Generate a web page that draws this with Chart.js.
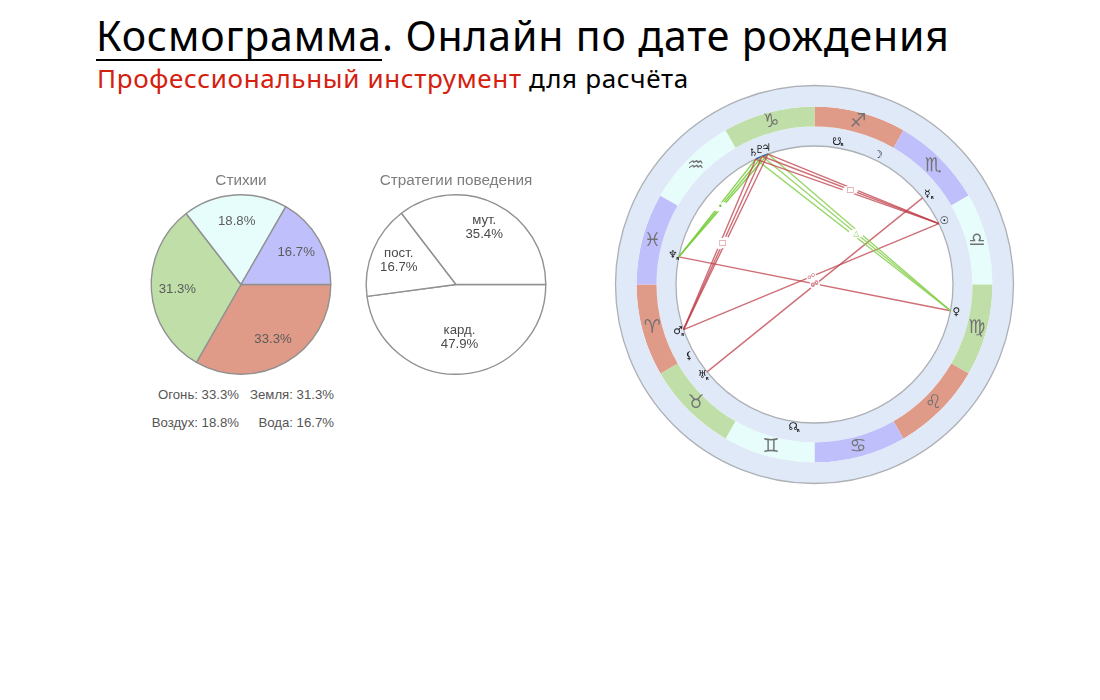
<!DOCTYPE html>
<html lang="ru"><head><meta charset="utf-8">
<script src="https://cdn.jsdelivr.net/npm/chart.js@4/dist/chart.umd.min.js"></script>
<style>
html,body{margin:0;padding:0;background:#fff;width:1100px;height:700px;overflow:hidden}
body{position:relative;font-family:"Liberation Sans",sans-serif}
canvas{position:absolute;display:block}
.t{position:absolute;white-space:nowrap}
#title{left:96px;top:10px;font:400 41px/50px "Noto Sans",sans-serif;color:#000;letter-spacing:.85px}
#title u{text-decoration:underline;text-decoration-thickness:2px;text-underline-offset:8px;text-decoration-skip-ink:none}
#sub{left:97px;top:60px;font:400 26px/36px "Noto Sans",sans-serif;color:#000;letter-spacing:.66px}
#sub b{font-weight:400;color:#d5200f}
.lg{font-size:13.2px;color:#555;line-height:16px;text-align:right}
</style></head><body>
<div class="t" id="title"><u>Космограмма</u>. Онлайн по дате рождения</div>
<div class="t" id="sub"><b>Профессиональный инструмент</b> для расчёта</div>
<canvas id="pie1" style="left:131px;top:165px;width:220px;height:211px" width="220" height="211"></canvas>
<canvas id="pie2" style="left:346px;top:165px;width:220px;height:211px" width="220" height="211"></canvas>
<canvas id="wheel" style="left:605px;top:75px;width:419px;height:419px" width="419" height="419"></canvas>
<canvas id="aspects" style="left:605px;top:75px;width:419px;height:419px" width="419" height="419"></canvas>
<div id="legend"></div>
<script>
// ---- pie data ----
const elementNames  = ['Огонь','Земля','Воздух','Вода'];
const elementValues = [33.3,31.3,18.8,16.7];
const elementColors = ['#e09a88','#c0dfa8','#e7fdfb','#bfc0fb'];
const strategyNames  = ['кард.','пост.','мут.'];
const strategyValues = [47.9,16.7,35.4];
const strategyLabelRadius = [0.59,0.69,0.71];
// ---- wheel data ----
const signLabels = ['♐','♏','♎','♍','♌','♋','♊','♉','♈','♓','♒','♑'];
const signDegrees = [30,30,30,30,30,30,30,30,30,30,30,30];
const signColors = ['#e09a88','#bfc0fb','#e7fdfb','#c0dfa8','#e09a88','#bfc0fb','#e7fdfb','#c0dfa8','#e09a88','#bfc0fb','#e7fdfb','#c0dfa8'];
// planet position on the wheel, degrees counter-clockwise from east
const planetNames  = ['sun','mercury','moon','snode','jupiter','pluto','saturn','neptune','mars','lilith','uranus','nnode','venus'];
const planetGlyphs = ['☉','☿','☽','☋','♃','♇','♄','♆','♂','⚸','♅','☊','♀'];
const planetAngles = [26.1,38.7,63.8,81,109.6,112.2,115.1,168.5,199,209.8,219.1,261.6,349.1];
const planetRetro  = [0,1,0,1,0,0,0,1,1,0,1,1,0];
// aspect lines
const aspectFrom = ['saturn','pluto','jupiter','saturn','pluto','jupiter','saturn','pluto','jupiter','neptune','neptune','neptune','neptune','mars','mercury','saturn'];
const aspectTo   = ['mars','mars','mars','sun','sun','sun','venus','venus','venus','saturn','pluto','jupiter','venus','sun','uranus','jupiter'];
const aspectKind = ['sq','sq','sq','sq','sq','sq','tr','tr','tr','sx','sx','sx','op','op','op','co'];

const R_CIRCLE = 138.5, R_GLYPH = 144.5;
const kindColor = {sq:'rgba(190,62,72,.75)',op:'rgba(190,62,72,.75)',tr:'rgba(135,208,80,.85)',sx:'rgba(120,205,60,.9)',co:'#3a5cc4'};
const kindGlyph = {sq:'□',op:'☍',tr:'△',sx:'•'};
const kindText  = {sq:'#d0707a',op:'#d0707a',tr:'#8fd460',sx:'#6cc83c'};
const FG = '"DejaVu Sans",sans-serif';
const polar = (deg,r)=>({x:r*Math.cos(deg*Math.PI/180),y:r*Math.sin(deg*Math.PI/180)});
const at = (name,r)=>polar(planetAngles[planetNames.indexOf(name)],r);
Chart.defaults.animation=false;
Chart.defaults.responsive=false;

const pieLabels = {id:'pieLabels',afterDatasetsDraw(c,_,o){
  const g=c.ctx,arcs=c.getDatasetMeta(0).data,vals=c.data.datasets[0].data;
  g.save();g.textAlign='center';g.textBaseline='middle';g.font='13.2px "Liberation Sans"';g.fillStyle=o.color;
  arcs.forEach((a,i)=>{
    const mid=(a.startAngle+a.endAngle)/2,r=a.outerRadius*o.radius[i];
    const x=a.x+r*Math.cos(mid),y=a.y+r*Math.sin(mid),t=vals[i].toFixed(1)+'%';
    const name=o.names&&o.names[i];
    if(name){g.fillText(name,x,y-7);g.fillText(t,x,y+7);} else g.fillText(t,x,y);
  });g.restore();
}};
const pie=(id,title,labels,data,colors,lab)=>new Chart(document.getElementById(id),{
  type:'pie',plugins:[pieLabels],
  data:{labels,datasets:[{data,backgroundColor:colors,borderColor:'#919191',borderWidth:1.4}]},
  options:{rotation:90,layout:{padding:{bottom:1}},
    plugins:{legend:{display:false},tooltip:{enabled:false},pieLabels:lab,
      title:{display:true,text:title,color:'#7d7d7d',font:{size:15.3,weight:'normal',family:'"Liberation Sans"',lineHeight:1.1},padding:{top:7.6,bottom:4.6}}}}
});
pie('pie1','Стихии',elementNames,elementValues,elementColors,{color:'#5c5c5c',radius:[.71,.71,.71,.71]});
pie('pie2','Стратегии поведения',strategyNames,strategyValues,['#fff','#fff','#fff'],{color:'#4a4a4a',radius:strategyLabelRadius,names:strategyNames});

// legend of the first pie
const legendRight=[239,334,239,334], legendTop=[387,387,415,415];
document.getElementById('legend').innerHTML=elementNames.map((n,i)=>
 `<div class="t lg" style="right:${1100-legendRight[i]}px;top:${legendTop[i]}px">${n}: ${elementValues[i].toFixed(1)}%</div>`).join('');

// zodiac rings
const wheelDecor={id:'wheelDecor',afterDatasetsDraw(c){
  const g=c.ctx,outer=c.getDatasetMeta(0).data[0],inner=c.getDatasetMeta(2).data[0];
  g.save();g.strokeStyle='#adb0b4';g.lineWidth=1.3;
  [outer.outerRadius,inner.innerRadius].forEach(r=>{g.beginPath();g.arc(outer.x,outer.y,r,0,Math.PI*2);g.stroke();});
  g.fillStyle='#727272';g.font='19px '+FG;g.textAlign='center';g.textBaseline='middle';
  c.getDatasetMeta(1).data.forEach((a,i)=>{const p=a.getCenterPoint();g.fillText(c.data.labels[i]+'\uFE0E',p.x,p.y);});
  g.restore();
}};
new Chart(document.getElementById('wheel'),{type:'doughnut',plugins:[wheelDecor],
  data:{labels:signLabels,datasets:[
    {data:[360],backgroundColor:'#e0e9f7',borderWidth:0,weight:21},
    {data:signDegrees,backgroundColor:signColors,borderWidth:0,weight:20},
    {data:[360],backgroundColor:'#e0e9f7',borderWidth:0,weight:19.5}]},
  options:{cutout:'69.6%',layout:{padding:10.5},plugins:{legend:{display:false},tooltip:{enabled:false}}}
});

// aspect lines and planets, all on a shared linear scale centred on the wheel
const aspectMarks={id:'aspectMarks',afterDatasetsDraw(c){
  const g=c.ctx,X=c.scales.x,Y=c.scales.y,px=p=>({x:X.getPixelForValue(p.x),y:Y.getPixelForValue(p.y)});
  g.save();g.textAlign='center';g.textBaseline='middle';
  aspectKind.forEach((k,i)=>{ if(k==='co')return;
    const a=px(at(aspectFrom[i],R_CIRCLE)),b=px(at(aspectTo[i],R_CIRCLE));
    g.fillStyle='#fff';g.beginPath();g.arc((a.x+b.x)/2,(a.y+b.y)/2,k==='sx'?3.5:5,0,Math.PI*2);g.fill();
  });
  aspectKind.forEach((k,i)=>{ if(k==='co')return;
    const triple=aspectFrom[i]==='pluto'||aspectTo[i]==='pluto'||k==='op'; if(!triple)return;
    const a=px(at(aspectFrom[i],R_CIRCLE)),b=px(at(aspectTo[i],R_CIRCLE));
    g.fillStyle=kindText[k];g.font='8px '+FG;g.fillText(kindGlyph[k]+'\uFE0E',(a.x+b.x)/2,(a.y+b.y)/2);
  });
  g.fillStyle='#111';
  planetNames.forEach((n,i)=>{
    const p=px(polar(planetAngles[i],R_GLYPH));
    g.font='bold 10.5px '+FG;g.fillText(planetGlyphs[i]+'\uFE0E',p.x,p.y);
    if(planetRetro[i]){g.font='bold 4px '+FG;g.fillText('R',p.x+5,p.y+3.5);}
  });
  g.restore();
}};
new Chart(document.getElementById('aspects'),{type:'scatter',plugins:[aspectMarks],
  data:{datasets:aspectFrom.map((f,i)=>({
    data:[at(f,R_CIRCLE),at(aspectTo[i],R_CIRCLE)],showLine:true,pointRadius:0,
    borderColor:kindColor[aspectKind[i]],borderWidth:aspectKind[i]==='co'?1.6:1.4}))},
  options:{layout:{padding:0},scales:{x:{type:'linear',display:false,min:-209.5,max:209.5},y:{type:'linear',display:false,min:-209.5,max:209.5}},
    plugins:{legend:{display:false},tooltip:{enabled:false}}}
});
</script></body></html>
